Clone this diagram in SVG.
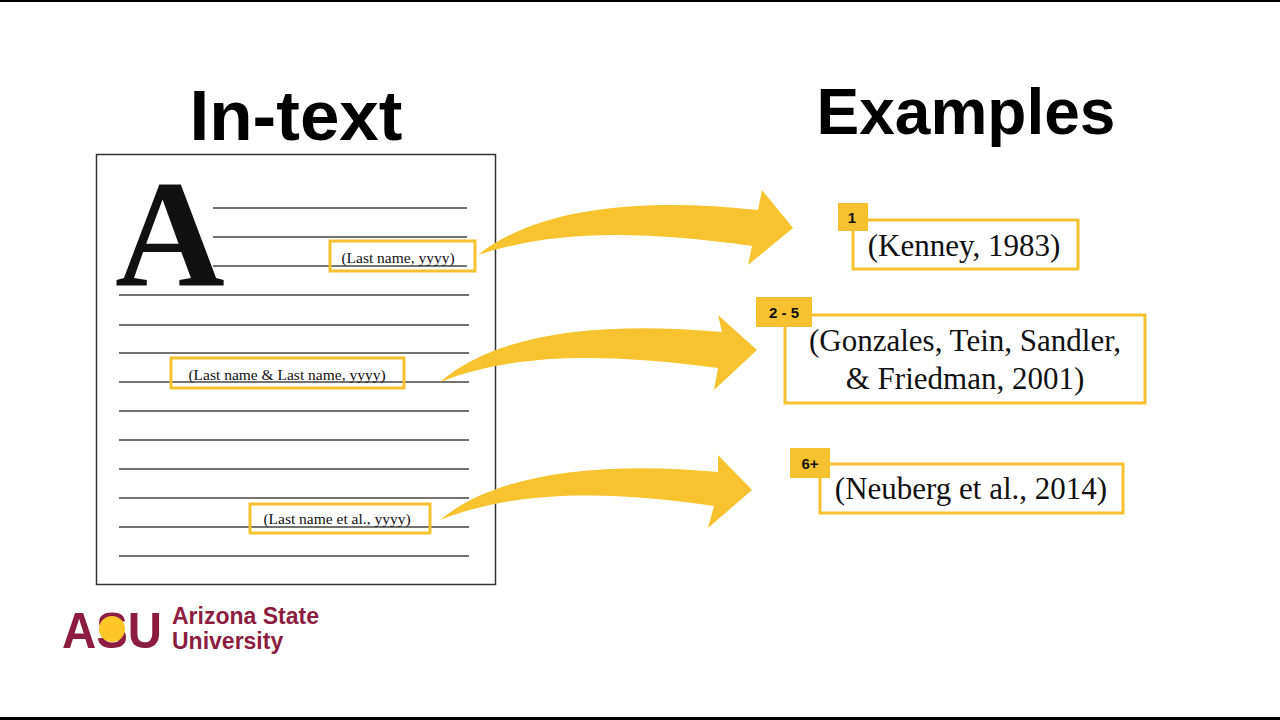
<svg xmlns="http://www.w3.org/2000/svg" width="1280" height="720" viewBox="0 0 1280 720">
<style>
.t{font-family:"Liberation Serif",serif;fill:#111}
.h{font-family:"Liberation Sans",Arial,sans-serif;font-weight:bold;fill:#000}
.ln{stroke:#444;stroke-width:1.6}
.yb{fill:none;stroke:#f5c12f;stroke-width:3}
.bd{fill:#f5c12f}
.arr{fill:#f7c430}
.bt{font-family:"Liberation Sans",Arial,sans-serif;font-weight:bold;font-size:15px;fill:#111;text-anchor:middle}
.lg{font-family:"Liberation Sans",Arial,sans-serif;font-weight:bold;font-size:23px;fill:#8c1d40}
</style>
<rect width="1280" height="720" fill="#fff"/>
<rect width="1280" height="2" fill="#000"/>
<rect y="717" width="1280" height="3" fill="#000"/>
<text class="h" x="296" y="140" font-size="71" text-anchor="middle">In-text</text>
<text class="h" x="966" y="134" font-size="64" text-anchor="middle">Examples</text>
<g id="page">
<rect x="96.5" y="154.5" width="399" height="430" fill="#fff" stroke="#333" stroke-width="1.5"/>
<text class="t" x="170" y="285" font-size="152" font-weight="bold" text-anchor="middle">A</text>
<g class="ln">
<line x1="213" y1="208" x2="467" y2="208"/><line x1="213" y1="237" x2="467" y2="237"/><line x1="213" y1="266" x2="467" y2="266"/>
<line x1="119" y1="295" x2="469" y2="295"/><line x1="119" y1="325" x2="469" y2="325"/><line x1="119" y1="353" x2="469" y2="353"/>
<line x1="119" y1="382" x2="469" y2="382"/><line x1="119" y1="411" x2="469" y2="411"/><line x1="119" y1="440" x2="469" y2="440"/>
<line x1="119" y1="469" x2="469" y2="469"/><line x1="119" y1="498" x2="469" y2="498"/><line x1="119" y1="527" x2="469" y2="527"/>
<line x1="119" y1="556" x2="469" y2="556"/>
</g>
</g>
<g id="cite1"><rect x="330" y="241" width="145" height="30" fill="#fff" class="yb"/><text class="t" x="398" y="263" font-size="15.5" text-anchor="middle">(Last name, yyyy)</text></g>
<g id="cite2"><rect x="171" y="358" width="233" height="30" fill="#fff" class="yb"/><text class="t" x="287" y="380" font-size="15.5" text-anchor="middle">(Last name &amp; Last name, yyyy)</text></g>
<g id="cite3"><rect x="250" y="504" width="180" height="29" fill="#fff" class="yb"/><text class="t" x="337" y="524" font-size="15.5" text-anchor="middle">(Last name et al., yyyy)</text></g>
<g id="connectors">
<path class="arr" d="M478,255 C540,205 650,198 758,210 L762,190 L793,228 L748,265 L752,246 C650,232 560,228 478,255 Z"/>
<path class="arr" d="M440,382 C500,330 610,322 722,332 L718,315 L757,350 L714,390 L718,368 C620,355 520,350 440,382 Z"/>
<path class="arr" d="M440,520 C500,470 610,462 718,472 L718,455 L752,490 L708,528 L714,506 C620,492 520,488 440,520 Z"/>
</g>
<g id="ex1"><rect x="853" y="220" width="225" height="49" fill="#fff" class="yb"/><text class="t" x="964" y="256" font-size="31" text-anchor="middle">(Kenney, 1983)</text>
<rect x="838" y="203" width="30" height="28" class="bd"/><text class="bt" x="852" y="223">1</text></g>
<g id="ex2"><rect x="785" y="315" width="360" height="88" fill="#fff" class="yb"/><text class="t" x="965" y="351" font-size="31" text-anchor="middle">(Gonzales, Tein, Sandler,</text><text class="t" x="965" y="389" font-size="31" text-anchor="middle">&amp; Friedman, 2001)</text>
<rect x="756" y="297" width="56" height="30" class="bd"/><text class="bt" x="784" y="318">2 - 5</text></g>
<g id="ex3"><rect x="820" y="464" width="303" height="49" fill="#fff" class="yb"/><text class="t" x="971" y="499" font-size="31" text-anchor="middle">(Neuberg et al., 2014)</text>
<rect x="790" y="448" width="40" height="30" class="bd"/><text class="bt" x="810" y="469">6+</text></g>
<g id="logo">
<text x="62" y="648" font-family="Liberation Sans,Arial,sans-serif" font-weight="bold" font-size="50" fill="#8c1d40" textLength="100" lengthAdjust="spacingAndGlyphs">ASU</text>
<circle cx="112" cy="629" r="13" fill="#ffc627"/>
<text class="lg" x="172" y="624">Arizona State</text>
<text class="lg" x="172" y="649">University</text>
</g>
</svg>
